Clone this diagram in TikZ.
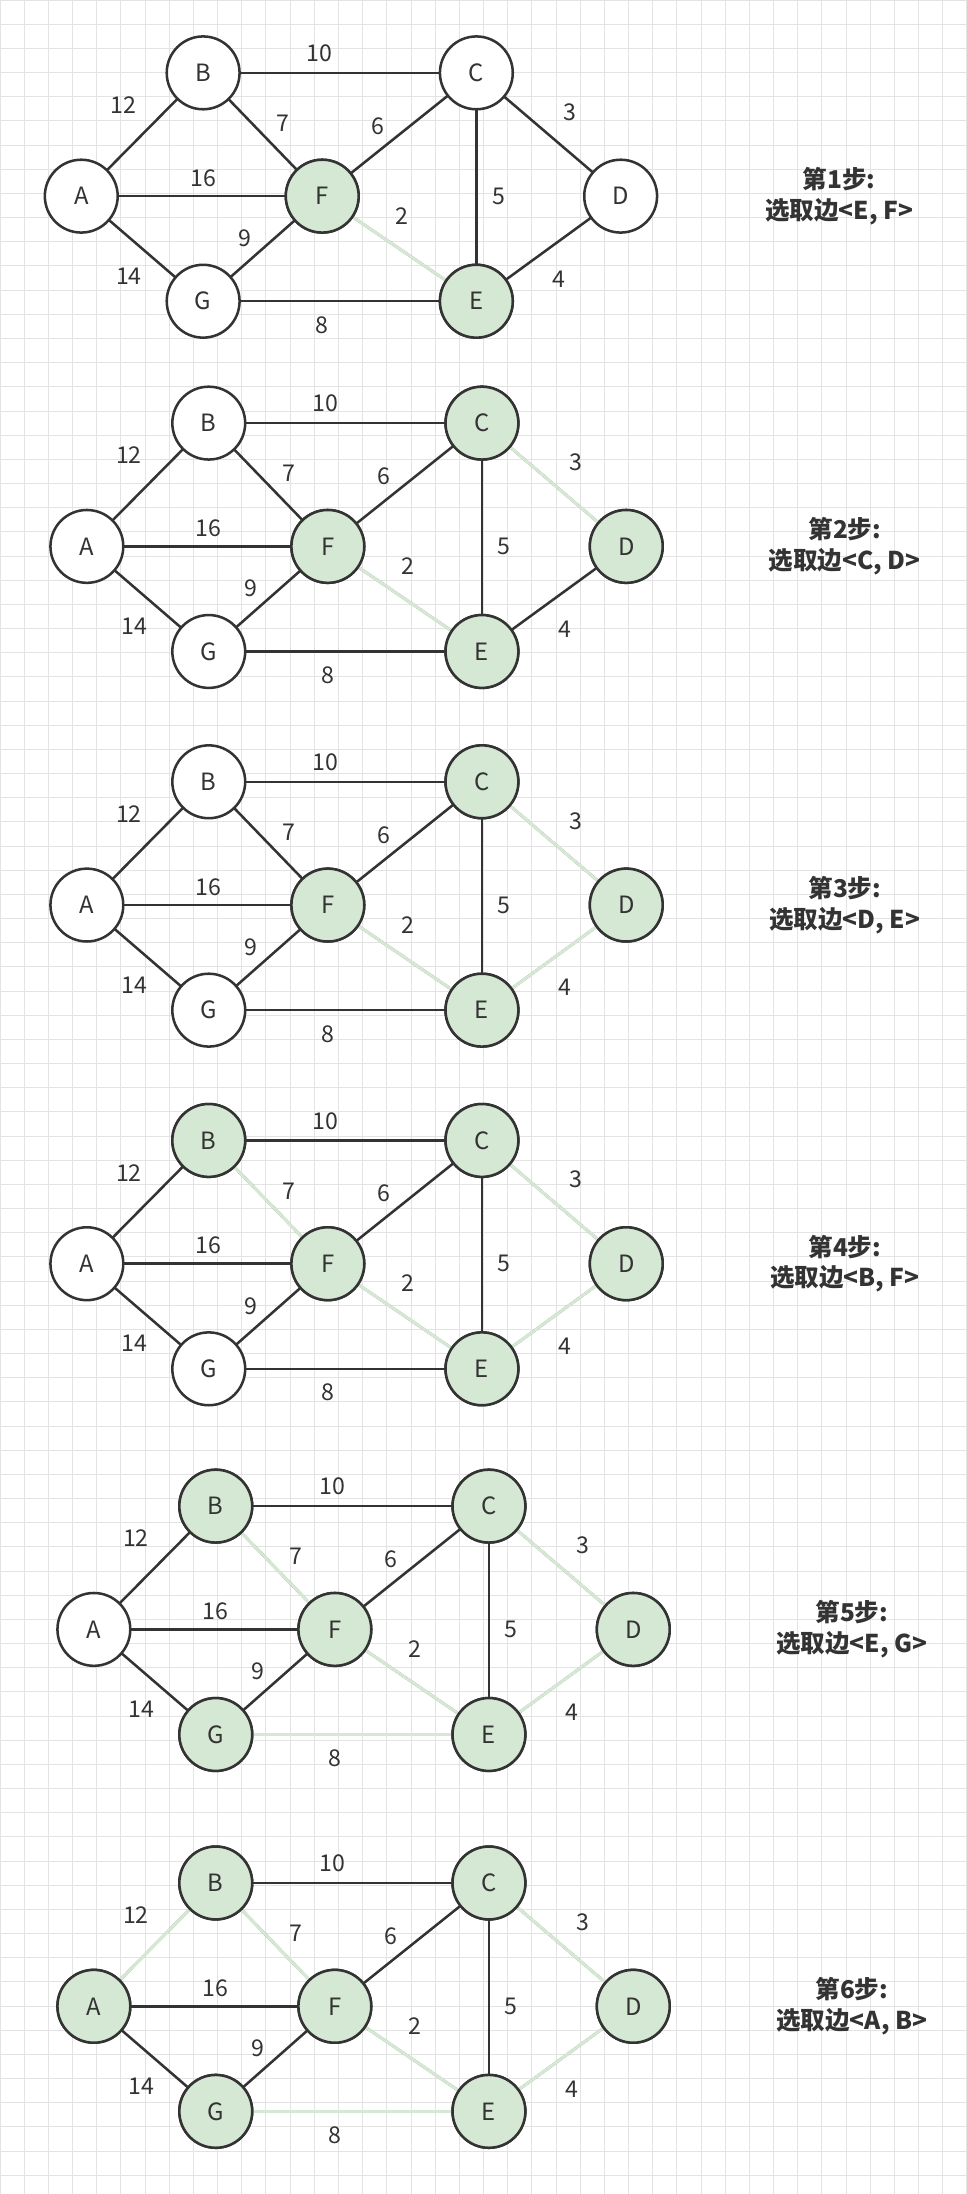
\documentclass[tikz,border=0pt]{standalone}
\usepackage{fontspec}
\setmainfont{Noto Sans CJK SC}
\definecolor{gfill}{HTML}{D5E8D4}
\definecolor{gedgec}{HTML}{D5E8D4}
\definecolor{dk}{HTML}{333333}
\tikzset{
 vnode/.style={circle,draw=dk,line width=1.8pt,fill=white,minimum size=52pt,inner sep=0pt,font=\fontsize{17}{19}\selectfont,text=dk},
 gnode/.style={vnode,fill=gfill},
 edge/.style={draw=dk,line width=1.8pt},
 gedge/.style={draw=gedgec,line width=2.2pt},
 elab/.style={font=\fontsize{16.5}{18}\selectfont,text=dk},
 steplab/.style={font=\bfseries\fontsize{17.5}{22}\selectfont,text=dk,align=center}
}
\newcommand\drawgraph[5]{%
\begin{scope}[shift={(#1,#2)}]
\coordinate (A) at (0,0);
\coordinate (B) at (87,-88);
\coordinate (C) at (282,-88);
\coordinate (D) at (385,0);
\coordinate (F) at (172,0);
\coordinate (G) at (87,75);
\coordinate (E) at (282,75);
\foreach \u/\v in {A/B,B/C,B/F,A/F,A/G,G/F,F/C,C/D,C/E,F/E,G/E,E/D} \draw[edge] (\u)--(\v);
\foreach \u/\v in {#5} \draw[gedge] (\u)--(\v);
\foreach \n in {A,B,C,D,E,F,G} \node[vnode] (n\n) at (\n) {\n};
\foreach \n in {#4} \node[gnode] (g\n) at (\n) {\n};
\node[elab] (l10) at (170,-102) {10};
\node[elab] (l12) at (30,-65) {12};
\node[elab] (l7) at (144,-52) {7};
\node[elab] (l6) at (212,-50) {6};
\node[elab] (l3) at (349,-60) {3};
\node[elab] (l16) at (87,-13) {16};
\node[elab] (l5) at (298,0) {5};
\node[elab] (l2) at (229,14) {2};
\node[elab] (l9) at (117,30) {9};
\node[elab] (l14) at (34,57) {14};
\node[elab] (l4) at (341,59) {4};
\node[elab] (l8) at (172,92) {8};
\node[steplab] (s) at (541,0) {#3};
\end{scope}}
\begin{document}
\begin{tikzpicture}[x=1pt,y=-1pt]
\fill[white] (0,0) rectangle (690,1566);
\useasboundingbox (0,0) rectangle (690,1566);
\foreach \i in {0,...,40} \draw[black!11,line width=0.5pt] (\i*17.25,0)--(\i*17.25,1566);
\foreach \j in {0,...,91} \draw[black!11,line width=0.5pt] (0,\j*17.25)--(690,\j*17.25);
\drawgraph{58}{140}{第1步:\\选取边<E, F>}{F,E}{E/F}
\drawgraph{62}{390}{第2步:\\选取边<C, D>}{F,E,C,D}{E/F,C/D}
\drawgraph{62}{646}{第3步:\\选取边<D, E>}{F,E,C,D}{E/F,C/D,D/E}
\drawgraph{62}{902}{第4步:\\选取边<B, F>}{F,E,C,D,B}{E/F,C/D,D/E,B/F}
\drawgraph{67}{1163}{第5步:\\选取边<E, G>}{F,E,C,D,B,G}{E/F,C/D,D/E,B/F,E/G}
\drawgraph{67}{1432}{第6步:\\选取边<A, B>}{F,E,C,D,B,G,A}{E/F,C/D,D/E,B/F,E/G,A/B}
\end{tikzpicture}
\end{document}
